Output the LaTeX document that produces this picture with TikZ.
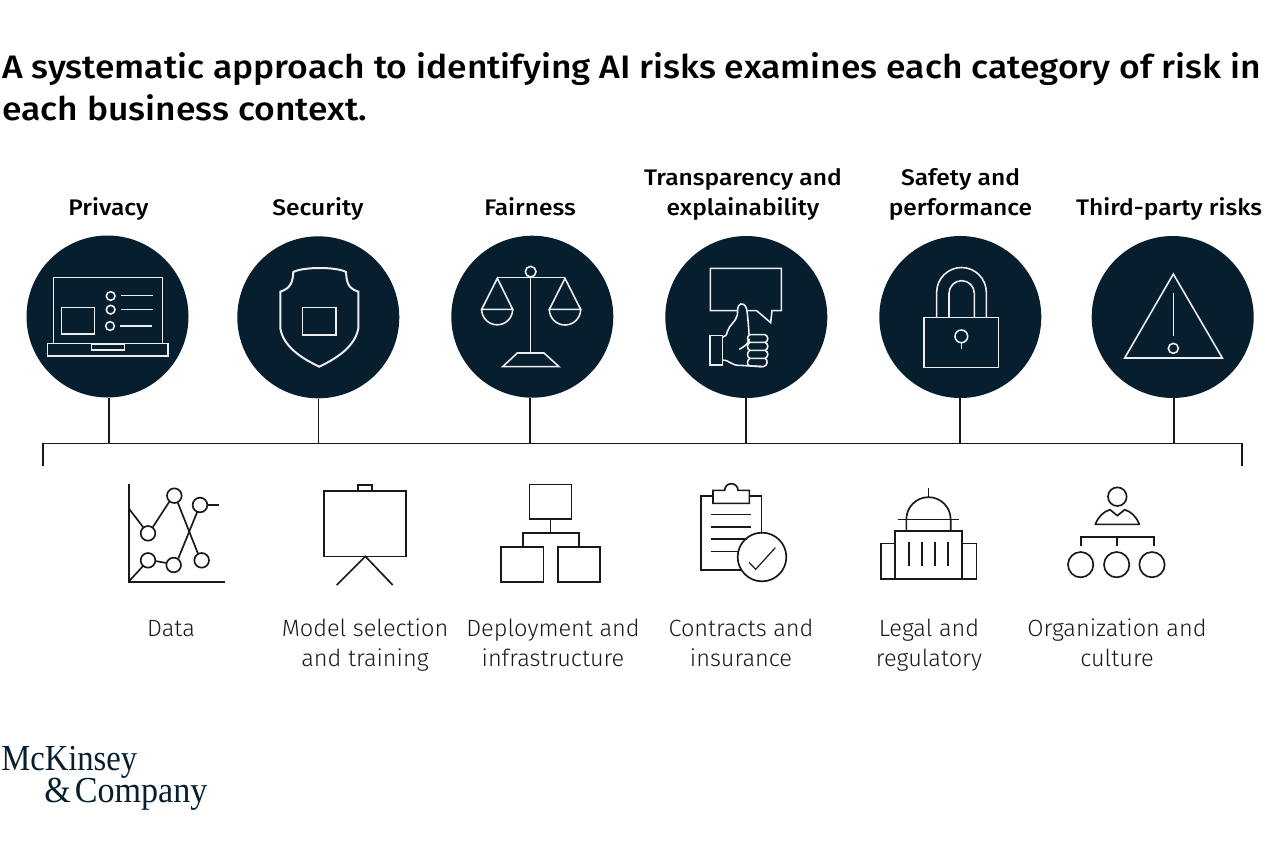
\documentclass[tikz,border=0pt]{standalone}
\usepackage{fontspec}
\setmainfont{Fira Sans}
\newfontfamily\medf[FakeStretch=1.09]{Fira Sans Medium}
\newfontfamily\lightf{Fira Sans Light}
\newfontfamily\logofa[FakeStretch=0.89]{Liberation Serif}
\newfontfamily\logofb[FakeStretch=0.93]{Liberation Serif}
\definecolor{navy}{HTML}{071E2F}
\tikzset{
  z/.style={shift={(#1)},x=.25pt,y=-.25pt},
  disc/.style={circle,fill=navy,draw=none,minimum size=121.5pt,inner sep=0pt},
  wl/.style={draw=white!92!navy,line width=1.2pt,line join=miter},
  bl/.style={draw=black!90,line width=1.25pt},
  link/.style={draw=black!90,line width=1.2pt},
  headtext/.style={font=\medf\fontsize{24.4}{31.3}\selectfont,anchor=base west,align=left,inner sep=0pt,text=black},
  riskl/.style={font=\medf\fontsize{16.9}{22.5}\selectfont,anchor=base,align=center,inner sep=0pt,text=black},
  ctxl/.style={font=\lightf\fontsize{17.65}{22.7}\selectfont,anchor=base,align=center,inner sep=0pt,text=black!90},
  logota/.style={font=\logofa\fontsize{27.5}{27.5}\selectfont,anchor=base west,inner sep=0pt,text=navy},
  logotb/.style={font=\logofb\fontsize{27.5}{27.5}\selectfont,anchor=base west,inner sep=0pt,text=navy},
}
\begin{document}
\begin{tikzpicture}[x=.75pt,y=-.75pt]
\useasboundingbox (0,0) rectangle (1265,844);
\node[headtext] (title) at (2,120.5) {A systematic approach to identifying AI risks examines each category of risk in\\each business context.};
% discs
\node[disc] (c1) at (107.5,316.5) {};
\node[disc] (c2) at (318.3,317.3) {};
\node[disc] (c3) at (532.3,316.7) {};
\node[disc] (c4) at (746.3,317) {};
\node[disc] (c5) at (960.3,317) {};
\node[disc] (c6) at (1172.7,317) {};
% risk labels
\node[riskl] (r1) at (108.5,215) {Privacy};
\node[riskl] (r2) at (318,215) {Security};
\node[riskl] (r3) at (530,215) {Fairness};
\node[riskl] (r4) at (743,215) {Transparency and\\explainability};
\node[riskl] (r5) at (960.5,215) {Safety and\\performance};
\node[riskl] (r6) at (1169,215) {Third-party risks};
% bus
\coordinate (bl) at (43,443.5);
\coordinate (br) at (1242,443.5);
\coordinate (el) at (43,466);
\coordinate (er) at (1242,466);
\coordinate (b1) at (108.7,443.5);
\coordinate (b2) at (318.5,443.5);
\coordinate (b3) at (530,443.5);
\coordinate (b4) at (746,443.5);
\coordinate (b5) at (960,443.5);
\coordinate (b6) at (1174,443.5);
\draw[link] (el) -- (bl) -- (br) -- (er);
\draw[link] (b1 |- c1.south) -- (b1);
\draw[link] (b2 |- c2.south) -- (b2);
\draw[link] (b3 |- c3.south) -- (b3);
\draw[link] (b4 |- c4.south) -- (b4);
\draw[link] (b5 |- c5.south) -- (b5);
\draw[link] (b6 |- c6.south) -- (b6);
% laptop
\begin{scope}[z={20,230}]
\draw[wl] (100,340) -- (100,142) -- (427,142) -- (427,340);
\draw[wl] (82,341) rectangle (444,378);
\draw[wl] (214,343) rectangle (313,360);
\draw[wl] (124,232) rectangle (223,312);
\draw[wl] (272,198) circle (13);
\draw[wl] (272,239) circle (13);
\draw[wl] (270,288) circle (13);
\draw[wl] (302,197) -- (398,197);
\draw[wl] (302,238) -- (398,238);
\draw[wl] (300,288) -- (396,288);
% shield
\draw[wl,line width=1.5pt] (820,126) .. controls (850,110) and (950,110) .. (978,126)
  .. controls (980,160) and (985,175) .. (1015,185) -- (1015,295)
  .. controls (1005,350) and (950,385) .. (898,410)
  .. controls (845,385) and (790,350) .. (781,295) -- (781,185)
  .. controls (810,175) and (818,160) .. (820,126) -- cycle;
\draw[wl] (848,233) rectangle (948,315);
\end{scope}
% scales
\begin{scope}[z={440,230}]
\draw[wl] (172,143) -- (375,143);
\draw[wl] (272,143) -- (272,370);
\draw[wl] (272,125) circle (16);
\draw[wl] (125,238) -- (172,145) -- (218,238) -- cycle;
\draw[wl] (125,238) arc[start angle=180,end angle=0,radius=46.5];
\draw[wl] (328,238) -- (375,145) -- (422,238) -- cycle;
\draw[wl] (328,238) arc[start angle=180,end angle=0,radius=47];
\draw[wl] (232,369) -- (312,369) -- (357,410) -- (188,410) -- cycle;
\end{scope}
% thumb
\begin{scope}[z={700,260}]
\draw[wl] (113,152) -- (31,152) -- (31,25) -- (244,25) -- (244,152) -- (216,152) -- (212,188) -- (170,152) -- (142,152);
\draw[wl] (30,226) rectangle (67,315);
\draw[wl] (67,232) .. controls (76,230) and (80,226) .. (83,212)
  .. controls (88,195) and (108,185) .. (112,165)
  .. controls (114,150) and (110,138) .. (122,132)
  .. controls (136,130) and (140,142) .. (142,160)
  .. controls (144,180) and (146,200) .. (147,224);
\draw[wl] (148,236) .. controls (146,250) and (136,258) .. (118,268);
\draw[wl] (67,300) .. controls (85,298) and (95,318) .. (120,316) -- (188,320);
\draw[wl] (150,224) -- (195,224) .. controls (206,228) and (206,244) .. (195,247) -- (150,247) .. controls (140,244) and (140,228) .. (150,224);
\draw[wl] (150,247) .. controls (140,252) and (140,268) .. (150,271) -- (195,271) .. controls (206,268) and (206,250) .. (195,247);
\draw[wl] (150,271) .. controls (140,276) and (140,292) .. (150,295) -- (195,295) .. controls (206,292) and (206,274) .. (195,271);
\draw[wl] (150,295) .. controls (140,300) and (140,316) .. (150,318) -- (190,320) .. controls (204,318) and (204,298) .. (195,295);
\end{scope}
% lock and warning
\begin{scope}[z={870,230}]
\draw[wl] (162,263) rectangle (386,412);
\draw[wl] (200,263) -- (200,187) arc[start angle=180,end angle=360,radius=74.5] -- (349,263);
\draw[wl] (237,263) -- (237,190) arc[start angle=180,end angle=360,radius=38] -- (313,263);
\draw[wl] (274,319) circle (19);
\draw[wl] (274,338) -- (274,356);
\draw[wl] (910,132) -- (1057,384) -- (764,384) -- cycle;
\draw[wl] (910,190) -- (910,317);
\draw[wl] (910,355) circle (15);
\end{scope}
% chart and board
\begin{scope}[z={110,475}]
\draw[bl] (56,28) -- (56,320) -- (345,320);
\draw[bl] (114,175) circle (22);
\draw[bl] (193,62) circle (22);
\draw[bl] (270,90) circle (22);
\draw[bl] (114,256) circle (22);
\draw[bl] (191,270) circle (22);
\draw[bl] (275,256) circle (22);
\draw[bl] (56,100) -- (100,157);
\draw[bl] (128,157) -- (178,80);
\draw[bl] (203,82) -- (264,236);
\draw[bl] (262,110) -- (205,250);
\draw[bl] (292,90) -- (328,90);
\draw[bl] (56,320) -- (100,272);
\draw[bl] (136,258) -- (170,264);
\draw[bl] (641,48) rectangle (888,244);
\draw[bl] (743,48) -- (743,30) -- (785,30) -- (785,48);
\draw[bl] (680,330) -- (766,244) -- (848,330);
\end{scope}
% hierarchy and clipboard
\begin{scope}[z={490,475}]
\draw[bl] (118,28) rectangle (244,132);
\draw[bl] (181,132) -- (181,173);
\draw[bl] (98,216) -- (98,173) -- (266,173) -- (266,216);
\draw[bl] (32,216) rectangle (160,320);
\draw[bl] (203,216) rectangle (330,320);
\draw[bl] (752,284) -- (632,284) -- (632,62) -- (669,62);
\draw[bl] (778,62) -- (814,62) -- (814,176);
\draw[bl] (669,46) -- (704,46) arc[start angle=180,end angle=360,radius=20] -- (778,46) -- (778,85) -- (669,85) -- cycle;
\draw[bl,line width=.9pt] (664,119) -- (782,119);
\draw[bl,line width=.9pt] (664,156) -- (782,156);
\draw[bl,line width=.9pt] (664,192) -- (770,192);
\draw[bl,line width=.9pt] (664,230) -- (745,230);
\draw[bl] (816,246) circle (73);
\draw[bl,line width=.9pt] (777,262) -- (797,283) -- (856,218);
\end{scope}
% capitol and org
\begin{scope}[z={870,475}]
\draw[bl] (75,167) rectangle (276,312);
\draw[bl] (75,205) -- (32,205) -- (32,312) -- (75,312);
\draw[bl] (276,205) -- (319,205) -- (319,312) -- (276,312);
\draw[bl] (109,167) -- (109,133) arc[start angle=180,end angle=360,radius=66.5] -- (242,167);
\draw[bl] (175,38) -- (175,67);
\draw[bl] (85,133) -- (266,133);
\draw[bl] (117,201) -- (117,272);
\draw[bl] (156,201) -- (156,272);
\draw[bl] (194,201) -- (194,272);
\draw[bl] (233,201) -- (233,272);
\draw[bl] (742,65) circle (28);
\draw[bl,line join=round] (676,148) .. controls (685,125) and (700,110) .. (720,104) -- (742,122) -- (764,104) .. controls (784,110) and (799,125) .. (808,148) -- cycle;
\draw[bl] (632,214) -- (632,186) -- (851,186) -- (851,214);
\draw[bl] (741,186) -- (741,214);
\draw[bl] (632,269) circle (38);
\draw[bl] (740,269) circle (38);
\draw[bl] (846,269) circle (38);
\end{scope}
% context labels
\node[ctxl] (t1) at (171,636) {Data};
\node[ctxl] (t2) at (365,666.5) {Model selection\\and training};
\node[ctxl] (t3) at (553,666.5) {Deployment and\\infrastructure};
\node[ctxl] (t4) at (741,666.5) {Contracts and\\insurance};
\node[ctxl] (t5) at (929,666.5) {Legal and\\regulatory};
\node[ctxl] (t6) at (1117,666.5) {Organization and\\culture};
% logo
\node[logota] (l1) at (1,770) {McKinsey};
\node[logotb] (l2) at (44,802) {\&\kern3pt Company};
\end{tikzpicture}
\end{document}
